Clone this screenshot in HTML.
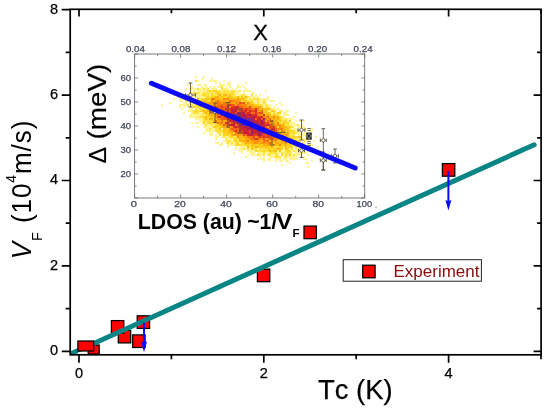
<!DOCTYPE html>
<html><head><meta charset="utf-8"><title>VF vs Tc</title>
<style>html,body{margin:0;padding:0;background:#fff;}svg{display:block;}text{font-family:"Liberation Sans",Arial,Helvetica,sans-serif;font-kerning:none;}</style>
</head><body>
<svg width="550" height="410" viewBox="0 0 550 410">
<rect width="550" height="410" fill="#fff"/>
<defs><filter id="bl" x="-5%" y="-5%" width="110%" height="110%"><feGaussianBlur stdDeviation="0.5"/></filter></defs>
<g filter="url(#bl)">
<rect x="195" y="76" width="2" height="2" fill="#fff392"/>
<rect x="203" y="76" width="2" height="2" fill="#fff392"/>
<rect x="201" y="78" width="2" height="2" fill="#fff392"/>
<rect x="211" y="78" width="2" height="2" fill="#fff392"/>
<rect x="195" y="80" width="2" height="2" fill="#ffe140"/>
<rect x="197" y="80" width="2" height="2" fill="#fff392"/>
<rect x="209" y="80" width="8" height="2" fill="#fff392"/>
<rect x="223" y="80" width="2" height="2" fill="#fff392"/>
<rect x="189" y="82" width="2" height="2" fill="#fff392"/>
<rect x="215" y="82" width="2" height="2" fill="#fff392"/>
<rect x="219" y="82" width="2" height="2" fill="#fff392"/>
<rect x="227" y="82" width="4" height="2" fill="#fff392"/>
<rect x="245" y="82" width="2" height="2" fill="#fff392"/>
<rect x="187" y="84" width="2" height="2" fill="#fff392"/>
<rect x="197" y="84" width="4" height="2" fill="#fff392"/>
<rect x="203" y="84" width="4" height="2" fill="#fff392"/>
<rect x="219" y="84" width="6" height="2" fill="#fff392"/>
<rect x="227" y="84" width="4" height="2" fill="#fff392"/>
<rect x="237" y="84" width="2" height="2" fill="#fff392"/>
<rect x="241" y="84" width="2" height="2" fill="#fff392"/>
<rect x="191" y="86" width="2" height="2" fill="#fff392"/>
<rect x="201" y="86" width="2" height="2" fill="#fff392"/>
<rect x="205" y="86" width="2" height="2" fill="#fff392"/>
<rect x="209" y="86" width="2" height="2" fill="#fff392"/>
<rect x="213" y="86" width="2" height="2" fill="#fff392"/>
<rect x="217" y="86" width="4" height="2" fill="#fff392"/>
<rect x="221" y="86" width="2" height="2" fill="#ffe140"/>
<rect x="225" y="86" width="2" height="2" fill="#fff392"/>
<rect x="229" y="86" width="2" height="2" fill="#fff392"/>
<rect x="237" y="86" width="4" height="2" fill="#fff392"/>
<rect x="243" y="86" width="2" height="2" fill="#fff392"/>
<rect x="185" y="88" width="2" height="2" fill="#fff392"/>
<rect x="189" y="88" width="8" height="2" fill="#fff392"/>
<rect x="197" y="88" width="2" height="2" fill="#ffe140"/>
<rect x="199" y="88" width="4" height="2" fill="#fff392"/>
<rect x="203" y="88" width="2" height="2" fill="#ffe140"/>
<rect x="205" y="88" width="2" height="2" fill="#fff392"/>
<rect x="207" y="88" width="2" height="2" fill="#ffe140"/>
<rect x="211" y="88" width="6" height="2" fill="#fff392"/>
<rect x="221" y="88" width="2" height="2" fill="#ffe140"/>
<rect x="223" y="88" width="6" height="2" fill="#fff392"/>
<rect x="231" y="88" width="2" height="2" fill="#fff392"/>
<rect x="235" y="88" width="2" height="2" fill="#fff392"/>
<rect x="245" y="88" width="2" height="2" fill="#fff392"/>
<rect x="193" y="90" width="2" height="2" fill="#fff392"/>
<rect x="197" y="90" width="10" height="2" fill="#fff392"/>
<rect x="207" y="90" width="2" height="2" fill="#ffe140"/>
<rect x="209" y="90" width="2" height="2" fill="#ffd21d"/>
<rect x="211" y="90" width="2" height="2" fill="#ffe140"/>
<rect x="213" y="90" width="4" height="2" fill="#ffd21d"/>
<rect x="217" y="90" width="4" height="2" fill="#ffe140"/>
<rect x="221" y="90" width="2" height="2" fill="#fff392"/>
<rect x="223" y="90" width="6" height="2" fill="#ffe140"/>
<rect x="229" y="90" width="2" height="2" fill="#fff392"/>
<rect x="231" y="90" width="4" height="2" fill="#ffe140"/>
<rect x="235" y="90" width="4" height="2" fill="#fff392"/>
<rect x="239" y="90" width="2" height="2" fill="#ffe140"/>
<rect x="243" y="90" width="8" height="2" fill="#fff392"/>
<rect x="265" y="90" width="2" height="2" fill="#fff392"/>
<rect x="189" y="92" width="2" height="2" fill="#ffe140"/>
<rect x="191" y="92" width="2" height="2" fill="#fff392"/>
<rect x="193" y="92" width="6" height="2" fill="#ffe140"/>
<rect x="199" y="92" width="4" height="2" fill="#fff392"/>
<rect x="203" y="92" width="10" height="2" fill="#ffe140"/>
<rect x="213" y="92" width="2" height="2" fill="#fff392"/>
<rect x="215" y="92" width="4" height="2" fill="#ffd21d"/>
<rect x="219" y="92" width="12" height="2" fill="#ffe140"/>
<rect x="231" y="92" width="2" height="2" fill="#ffd21d"/>
<rect x="233" y="92" width="2" height="2" fill="#ffe140"/>
<rect x="235" y="92" width="4" height="2" fill="#fff392"/>
<rect x="243" y="92" width="2" height="2" fill="#fff392"/>
<rect x="251" y="92" width="4" height="2" fill="#fff392"/>
<rect x="173" y="94" width="2" height="2" fill="#fff392"/>
<rect x="179" y="94" width="2" height="2" fill="#fff392"/>
<rect x="183" y="94" width="2" height="2" fill="#fff392"/>
<rect x="187" y="94" width="4" height="2" fill="#fff392"/>
<rect x="193" y="94" width="8" height="2" fill="#fff392"/>
<rect x="201" y="94" width="2" height="2" fill="#ffe140"/>
<rect x="203" y="94" width="2" height="2" fill="#ffd21d"/>
<rect x="205" y="94" width="4" height="2" fill="#ffe140"/>
<rect x="209" y="94" width="2" height="2" fill="#fff392"/>
<rect x="211" y="94" width="2" height="2" fill="#ffd21d"/>
<rect x="213" y="94" width="4" height="2" fill="#ffe140"/>
<rect x="217" y="94" width="2" height="2" fill="#ffd21d"/>
<rect x="219" y="94" width="2" height="2" fill="#ffae0f"/>
<rect x="221" y="94" width="2" height="2" fill="#ffe140"/>
<rect x="223" y="94" width="2" height="2" fill="#ffc016"/>
<rect x="225" y="94" width="2" height="2" fill="#ffae0f"/>
<rect x="227" y="94" width="2" height="2" fill="#ffe140"/>
<rect x="229" y="94" width="2" height="2" fill="#ffc016"/>
<rect x="231" y="94" width="4" height="2" fill="#ffe140"/>
<rect x="235" y="94" width="6" height="2" fill="#fff392"/>
<rect x="241" y="94" width="4" height="2" fill="#ffe140"/>
<rect x="245" y="94" width="2" height="2" fill="#fff392"/>
<rect x="251" y="94" width="2" height="2" fill="#ffe140"/>
<rect x="255" y="94" width="2" height="2" fill="#fff392"/>
<rect x="259" y="94" width="2" height="2" fill="#fff392"/>
<rect x="177" y="96" width="2" height="2" fill="#fff392"/>
<rect x="181" y="96" width="4" height="2" fill="#fff392"/>
<rect x="187" y="96" width="2" height="2" fill="#fff392"/>
<rect x="189" y="96" width="2" height="2" fill="#ffd21d"/>
<rect x="191" y="96" width="14" height="2" fill="#fff392"/>
<rect x="205" y="96" width="2" height="2" fill="#ffe140"/>
<rect x="207" y="96" width="2" height="2" fill="#ffd21d"/>
<rect x="209" y="96" width="2" height="2" fill="#ffe140"/>
<rect x="211" y="96" width="4" height="2" fill="#ffd21d"/>
<rect x="215" y="96" width="4" height="2" fill="#ffae0f"/>
<rect x="219" y="96" width="2" height="2" fill="#ffd21d"/>
<rect x="221" y="96" width="2" height="2" fill="#ffc016"/>
<rect x="223" y="96" width="4" height="2" fill="#ffd21d"/>
<rect x="227" y="96" width="4" height="2" fill="#ffc016"/>
<rect x="231" y="96" width="2" height="2" fill="#ffd21d"/>
<rect x="233" y="96" width="2" height="2" fill="#ffe140"/>
<rect x="235" y="96" width="2" height="2" fill="#ffd21d"/>
<rect x="237" y="96" width="2" height="2" fill="#ffc016"/>
<rect x="239" y="96" width="2" height="2" fill="#ffe140"/>
<rect x="241" y="96" width="2" height="2" fill="#ffd21d"/>
<rect x="243" y="96" width="2" height="2" fill="#ffe140"/>
<rect x="245" y="96" width="2" height="2" fill="#ffc016"/>
<rect x="247" y="96" width="2" height="2" fill="#ffe140"/>
<rect x="249" y="96" width="10" height="2" fill="#fff392"/>
<rect x="267" y="96" width="2" height="2" fill="#fff392"/>
<rect x="173" y="98" width="2" height="2" fill="#fff392"/>
<rect x="179" y="98" width="6" height="2" fill="#fff392"/>
<rect x="187" y="98" width="4" height="2" fill="#fff392"/>
<rect x="193" y="98" width="2" height="2" fill="#fff392"/>
<rect x="197" y="98" width="2" height="2" fill="#ffae0f"/>
<rect x="199" y="98" width="2" height="2" fill="#fff392"/>
<rect x="201" y="98" width="2" height="2" fill="#ffd21d"/>
<rect x="203" y="98" width="2" height="2" fill="#ffe140"/>
<rect x="205" y="98" width="4" height="2" fill="#ffc016"/>
<rect x="209" y="98" width="2" height="2" fill="#ffd21d"/>
<rect x="211" y="98" width="4" height="2" fill="#f77610"/>
<rect x="215" y="98" width="2" height="2" fill="#ffc016"/>
<rect x="217" y="98" width="2" height="2" fill="#ffae0f"/>
<rect x="219" y="98" width="4" height="2" fill="#ffc016"/>
<rect x="223" y="98" width="2" height="2" fill="#fb890d"/>
<rect x="225" y="98" width="2" height="2" fill="#fe9c0b"/>
<rect x="227" y="98" width="2" height="2" fill="#fb890d"/>
<rect x="229" y="98" width="2" height="2" fill="#ffc016"/>
<rect x="231" y="98" width="4" height="2" fill="#ffae0f"/>
<rect x="235" y="98" width="2" height="2" fill="#ffc016"/>
<rect x="237" y="98" width="2" height="2" fill="#fe9c0b"/>
<rect x="239" y="98" width="6" height="2" fill="#ffc016"/>
<rect x="245" y="98" width="2" height="2" fill="#ffe140"/>
<rect x="247" y="98" width="2" height="2" fill="#fff392"/>
<rect x="249" y="98" width="2" height="2" fill="#ffe140"/>
<rect x="251" y="98" width="2" height="2" fill="#fff392"/>
<rect x="253" y="98" width="6" height="2" fill="#ffe140"/>
<rect x="259" y="98" width="10" height="2" fill="#fff392"/>
<rect x="179" y="100" width="4" height="2" fill="#fff392"/>
<rect x="185" y="100" width="2" height="2" fill="#ffe140"/>
<rect x="187" y="100" width="2" height="2" fill="#fff392"/>
<rect x="191" y="100" width="2" height="2" fill="#ffe140"/>
<rect x="193" y="100" width="4" height="2" fill="#fff392"/>
<rect x="197" y="100" width="2" height="2" fill="#ffe140"/>
<rect x="199" y="100" width="4" height="2" fill="#ffd21d"/>
<rect x="203" y="100" width="4" height="2" fill="#ffc016"/>
<rect x="207" y="100" width="2" height="2" fill="#ffe140"/>
<rect x="209" y="100" width="2" height="2" fill="#ffd21d"/>
<rect x="211" y="100" width="2" height="2" fill="#fe9c0b"/>
<rect x="213" y="100" width="2" height="2" fill="#ffc016"/>
<rect x="215" y="100" width="2" height="2" fill="#fe9c0b"/>
<rect x="217" y="100" width="2" height="2" fill="#f77610"/>
<rect x="219" y="100" width="2" height="2" fill="#fe9c0b"/>
<rect x="221" y="100" width="8" height="2" fill="#ffae0f"/>
<rect x="229" y="100" width="2" height="2" fill="#f46312"/>
<rect x="231" y="100" width="4" height="2" fill="#fb890d"/>
<rect x="235" y="100" width="6" height="2" fill="#fe9c0b"/>
<rect x="241" y="100" width="2" height="2" fill="#ffe140"/>
<rect x="243" y="100" width="2" height="2" fill="#ffd21d"/>
<rect x="245" y="100" width="2" height="2" fill="#ffc016"/>
<rect x="247" y="100" width="4" height="2" fill="#ffe140"/>
<rect x="251" y="100" width="2" height="2" fill="#ffd21d"/>
<rect x="253" y="100" width="4" height="2" fill="#fff392"/>
<rect x="257" y="100" width="2" height="2" fill="#ffe140"/>
<rect x="259" y="100" width="4" height="2" fill="#fff392"/>
<rect x="263" y="100" width="2" height="2" fill="#ffe140"/>
<rect x="265" y="100" width="2" height="2" fill="#fff392"/>
<rect x="269" y="100" width="6" height="2" fill="#fff392"/>
<rect x="169" y="102" width="2" height="2" fill="#fff392"/>
<rect x="183" y="102" width="4" height="2" fill="#fff392"/>
<rect x="189" y="102" width="2" height="2" fill="#ffe140"/>
<rect x="191" y="102" width="2" height="2" fill="#fff392"/>
<rect x="193" y="102" width="2" height="2" fill="#ffe140"/>
<rect x="195" y="102" width="2" height="2" fill="#fff392"/>
<rect x="197" y="102" width="4" height="2" fill="#ffe140"/>
<rect x="201" y="102" width="2" height="2" fill="#fff392"/>
<rect x="203" y="102" width="2" height="2" fill="#ffd21d"/>
<rect x="205" y="102" width="4" height="2" fill="#ffae0f"/>
<rect x="209" y="102" width="4" height="2" fill="#fe9c0b"/>
<rect x="213" y="102" width="2" height="2" fill="#ffae0f"/>
<rect x="215" y="102" width="4" height="2" fill="#f77610"/>
<rect x="219" y="102" width="2" height="2" fill="#fb890d"/>
<rect x="221" y="102" width="2" height="2" fill="#fe9c0b"/>
<rect x="223" y="102" width="4" height="2" fill="#f77610"/>
<rect x="227" y="102" width="2" height="2" fill="#fe9c0b"/>
<rect x="229" y="102" width="2" height="2" fill="#fb890d"/>
<rect x="231" y="102" width="2" height="2" fill="#fe9c0b"/>
<rect x="233" y="102" width="2" height="2" fill="#ffae0f"/>
<rect x="235" y="102" width="2" height="2" fill="#fb890d"/>
<rect x="237" y="102" width="2" height="2" fill="#fe9c0b"/>
<rect x="239" y="102" width="2" height="2" fill="#ef5316"/>
<rect x="241" y="102" width="2" height="2" fill="#f46312"/>
<rect x="243" y="102" width="2" height="2" fill="#ef5316"/>
<rect x="245" y="102" width="2" height="2" fill="#ffd21d"/>
<rect x="247" y="102" width="2" height="2" fill="#fb890d"/>
<rect x="249" y="102" width="2" height="2" fill="#ffc016"/>
<rect x="251" y="102" width="2" height="2" fill="#ffd21d"/>
<rect x="253" y="102" width="2" height="2" fill="#ffe140"/>
<rect x="255" y="102" width="2" height="2" fill="#fff392"/>
<rect x="257" y="102" width="2" height="2" fill="#ffe140"/>
<rect x="259" y="102" width="4" height="2" fill="#fff392"/>
<rect x="263" y="102" width="2" height="2" fill="#ffe140"/>
<rect x="265" y="102" width="2" height="2" fill="#fff392"/>
<rect x="279" y="102" width="2" height="2" fill="#fff392"/>
<rect x="161" y="104" width="2" height="2" fill="#fff392"/>
<rect x="179" y="104" width="8" height="2" fill="#fff392"/>
<rect x="187" y="104" width="2" height="2" fill="#ffe140"/>
<rect x="191" y="104" width="2" height="2" fill="#ffe140"/>
<rect x="193" y="104" width="2" height="2" fill="#fff392"/>
<rect x="195" y="104" width="6" height="2" fill="#ffe140"/>
<rect x="201" y="104" width="4" height="2" fill="#ffd21d"/>
<rect x="205" y="104" width="2" height="2" fill="#ffc016"/>
<rect x="207" y="104" width="6" height="2" fill="#ffae0f"/>
<rect x="213" y="104" width="2" height="2" fill="#fb890d"/>
<rect x="215" y="104" width="2" height="2" fill="#fe9c0b"/>
<rect x="217" y="104" width="4" height="2" fill="#f77610"/>
<rect x="221" y="104" width="2" height="2" fill="#f46312"/>
<rect x="223" y="104" width="4" height="2" fill="#f77610"/>
<rect x="227" y="104" width="2" height="2" fill="#e7461b"/>
<rect x="229" y="104" width="2" height="2" fill="#df3920"/>
<rect x="231" y="104" width="2" height="2" fill="#ef5316"/>
<rect x="233" y="104" width="2" height="2" fill="#f46312"/>
<rect x="235" y="104" width="2" height="2" fill="#fe9c0b"/>
<rect x="237" y="104" width="2" height="2" fill="#f46312"/>
<rect x="239" y="104" width="2" height="2" fill="#f77610"/>
<rect x="241" y="104" width="6" height="2" fill="#fb890d"/>
<rect x="247" y="104" width="6" height="2" fill="#ffae0f"/>
<rect x="253" y="104" width="2" height="2" fill="#ffc016"/>
<rect x="255" y="104" width="4" height="2" fill="#ffd21d"/>
<rect x="259" y="104" width="4" height="2" fill="#ffe140"/>
<rect x="263" y="104" width="2" height="2" fill="#fff392"/>
<rect x="265" y="104" width="2" height="2" fill="#ffe140"/>
<rect x="267" y="104" width="4" height="2" fill="#fff392"/>
<rect x="275" y="104" width="2" height="2" fill="#fff392"/>
<rect x="281" y="104" width="2" height="2" fill="#fff392"/>
<rect x="179" y="106" width="2" height="2" fill="#fff392"/>
<rect x="183" y="106" width="2" height="2" fill="#fff392"/>
<rect x="187" y="106" width="2" height="2" fill="#fff392"/>
<rect x="191" y="106" width="2" height="2" fill="#fff392"/>
<rect x="193" y="106" width="2" height="2" fill="#ffd21d"/>
<rect x="195" y="106" width="4" height="2" fill="#ffe140"/>
<rect x="199" y="106" width="4" height="2" fill="#ffd21d"/>
<rect x="203" y="106" width="2" height="2" fill="#ffe140"/>
<rect x="205" y="106" width="2" height="2" fill="#ffd21d"/>
<rect x="207" y="106" width="2" height="2" fill="#ffae0f"/>
<rect x="209" y="106" width="2" height="2" fill="#ffc016"/>
<rect x="211" y="106" width="2" height="2" fill="#fb890d"/>
<rect x="213" y="106" width="2" height="2" fill="#ffae0f"/>
<rect x="215" y="106" width="2" height="2" fill="#ef5316"/>
<rect x="217" y="106" width="2" height="2" fill="#f46312"/>
<rect x="219" y="106" width="2" height="2" fill="#ef5316"/>
<rect x="221" y="106" width="2" height="2" fill="#e7461b"/>
<rect x="223" y="106" width="2" height="2" fill="#f46312"/>
<rect x="225" y="106" width="2" height="2" fill="#ef5316"/>
<rect x="227" y="106" width="2" height="2" fill="#d72c25"/>
<rect x="229" y="106" width="2" height="2" fill="#fb890d"/>
<rect x="231" y="106" width="4" height="2" fill="#df3920"/>
<rect x="235" y="106" width="2" height="2" fill="#d72c25"/>
<rect x="237" y="106" width="2" height="2" fill="#cf202b"/>
<rect x="239" y="106" width="4" height="2" fill="#f46312"/>
<rect x="243" y="106" width="6" height="2" fill="#fb890d"/>
<rect x="249" y="106" width="2" height="2" fill="#ef5316"/>
<rect x="251" y="106" width="2" height="2" fill="#fe9c0b"/>
<rect x="253" y="106" width="2" height="2" fill="#ffae0f"/>
<rect x="255" y="106" width="2" height="2" fill="#fe9c0b"/>
<rect x="257" y="106" width="2" height="2" fill="#ffae0f"/>
<rect x="259" y="106" width="2" height="2" fill="#fe9c0b"/>
<rect x="261" y="106" width="2" height="2" fill="#ffd21d"/>
<rect x="263" y="106" width="2" height="2" fill="#fff392"/>
<rect x="265" y="106" width="4" height="2" fill="#ffe140"/>
<rect x="269" y="106" width="2" height="2" fill="#fff392"/>
<rect x="273" y="106" width="2" height="2" fill="#fff392"/>
<rect x="181" y="108" width="2" height="2" fill="#fff392"/>
<rect x="189" y="108" width="4" height="2" fill="#fff392"/>
<rect x="195" y="108" width="2" height="2" fill="#ffe140"/>
<rect x="197" y="108" width="2" height="2" fill="#fff392"/>
<rect x="199" y="108" width="4" height="2" fill="#ffe140"/>
<rect x="203" y="108" width="2" height="2" fill="#ffd21d"/>
<rect x="205" y="108" width="2" height="2" fill="#ffe140"/>
<rect x="207" y="108" width="2" height="2" fill="#ffc016"/>
<rect x="209" y="108" width="2" height="2" fill="#ffd21d"/>
<rect x="211" y="108" width="2" height="2" fill="#fe9c0b"/>
<rect x="213" y="108" width="2" height="2" fill="#ffc016"/>
<rect x="215" y="108" width="2" height="2" fill="#f77610"/>
<rect x="217" y="108" width="2" height="2" fill="#fe9c0b"/>
<rect x="219" y="108" width="2" height="2" fill="#f46312"/>
<rect x="221" y="108" width="2" height="2" fill="#ef5316"/>
<rect x="223" y="108" width="2" height="2" fill="#f46312"/>
<rect x="225" y="108" width="2" height="2" fill="#d72c25"/>
<rect x="227" y="108" width="2" height="2" fill="#ef5316"/>
<rect x="229" y="108" width="2" height="2" fill="#df3920"/>
<rect x="231" y="108" width="2" height="2" fill="#cf202b"/>
<rect x="233" y="108" width="2" height="2" fill="#d72c25"/>
<rect x="235" y="108" width="2" height="2" fill="#c32039"/>
<rect x="237" y="108" width="2" height="2" fill="#df3920"/>
<rect x="239" y="108" width="2" height="2" fill="#ef5316"/>
<rect x="241" y="108" width="2" height="2" fill="#df3920"/>
<rect x="243" y="108" width="2" height="2" fill="#ef5316"/>
<rect x="245" y="108" width="2" height="2" fill="#df3920"/>
<rect x="247" y="108" width="2" height="2" fill="#e7461b"/>
<rect x="249" y="108" width="2" height="2" fill="#ef5316"/>
<rect x="251" y="108" width="4" height="2" fill="#f77610"/>
<rect x="255" y="108" width="2" height="2" fill="#df3920"/>
<rect x="257" y="108" width="2" height="2" fill="#f77610"/>
<rect x="259" y="108" width="2" height="2" fill="#ffc016"/>
<rect x="261" y="108" width="2" height="2" fill="#ffae0f"/>
<rect x="263" y="108" width="6" height="2" fill="#ffc016"/>
<rect x="269" y="108" width="2" height="2" fill="#ffd21d"/>
<rect x="271" y="108" width="8" height="2" fill="#fff392"/>
<rect x="187" y="110" width="6" height="2" fill="#fff392"/>
<rect x="193" y="110" width="2" height="2" fill="#ffe140"/>
<rect x="195" y="110" width="2" height="2" fill="#ffd21d"/>
<rect x="197" y="110" width="4" height="2" fill="#ffe140"/>
<rect x="201" y="110" width="2" height="2" fill="#ffd21d"/>
<rect x="203" y="110" width="2" height="2" fill="#ffc016"/>
<rect x="205" y="110" width="2" height="2" fill="#ffd21d"/>
<rect x="207" y="110" width="2" height="2" fill="#ffae0f"/>
<rect x="209" y="110" width="2" height="2" fill="#fe9c0b"/>
<rect x="211" y="110" width="4" height="2" fill="#ffae0f"/>
<rect x="215" y="110" width="2" height="2" fill="#ef5316"/>
<rect x="217" y="110" width="4" height="2" fill="#fb890d"/>
<rect x="221" y="110" width="2" height="2" fill="#df3920"/>
<rect x="223" y="110" width="2" height="2" fill="#e7461b"/>
<rect x="225" y="110" width="2" height="2" fill="#ef5316"/>
<rect x="227" y="110" width="2" height="2" fill="#d72c25"/>
<rect x="229" y="110" width="2" height="2" fill="#ef5316"/>
<rect x="231" y="110" width="2" height="2" fill="#ab1f56"/>
<rect x="233" y="110" width="2" height="2" fill="#cf202b"/>
<rect x="235" y="110" width="2" height="2" fill="#b71f47"/>
<rect x="237" y="110" width="2" height="2" fill="#f46312"/>
<rect x="239" y="110" width="2" height="2" fill="#ef5316"/>
<rect x="241" y="110" width="2" height="2" fill="#d72c25"/>
<rect x="243" y="110" width="2" height="2" fill="#df3920"/>
<rect x="245" y="110" width="2" height="2" fill="#cf202b"/>
<rect x="247" y="110" width="2" height="2" fill="#f46312"/>
<rect x="249" y="110" width="2" height="2" fill="#cf202b"/>
<rect x="251" y="110" width="4" height="2" fill="#e7461b"/>
<rect x="255" y="110" width="2" height="2" fill="#cf202b"/>
<rect x="257" y="110" width="4" height="2" fill="#fe9c0b"/>
<rect x="261" y="110" width="2" height="2" fill="#f46312"/>
<rect x="263" y="110" width="2" height="2" fill="#ffd21d"/>
<rect x="265" y="110" width="2" height="2" fill="#ffc016"/>
<rect x="267" y="110" width="2" height="2" fill="#ffe140"/>
<rect x="269" y="110" width="2" height="2" fill="#fff392"/>
<rect x="271" y="110" width="2" height="2" fill="#ffc016"/>
<rect x="273" y="110" width="2" height="2" fill="#ffd21d"/>
<rect x="275" y="110" width="2" height="2" fill="#fff392"/>
<rect x="279" y="110" width="2" height="2" fill="#ffe140"/>
<rect x="281" y="110" width="2" height="2" fill="#fff392"/>
<rect x="285" y="110" width="4" height="2" fill="#fff392"/>
<rect x="183" y="112" width="2" height="2" fill="#fff392"/>
<rect x="191" y="112" width="2" height="2" fill="#fff392"/>
<rect x="193" y="112" width="6" height="2" fill="#ffe140"/>
<rect x="199" y="112" width="4" height="2" fill="#fff392"/>
<rect x="203" y="112" width="2" height="2" fill="#ffd21d"/>
<rect x="205" y="112" width="2" height="2" fill="#ffae0f"/>
<rect x="207" y="112" width="2" height="2" fill="#ffd21d"/>
<rect x="209" y="112" width="2" height="2" fill="#ffc016"/>
<rect x="211" y="112" width="2" height="2" fill="#fb890d"/>
<rect x="213" y="112" width="2" height="2" fill="#ffc016"/>
<rect x="215" y="112" width="2" height="2" fill="#f77610"/>
<rect x="217" y="112" width="2" height="2" fill="#fb890d"/>
<rect x="219" y="112" width="2" height="2" fill="#f46312"/>
<rect x="221" y="112" width="2" height="2" fill="#df3920"/>
<rect x="223" y="112" width="2" height="2" fill="#d72c25"/>
<rect x="225" y="112" width="2" height="2" fill="#f46312"/>
<rect x="227" y="112" width="4" height="2" fill="#d72c25"/>
<rect x="231" y="112" width="2" height="2" fill="#cf202b"/>
<rect x="233" y="112" width="2" height="2" fill="#c32039"/>
<rect x="235" y="112" width="2" height="2" fill="#e7461b"/>
<rect x="237" y="112" width="2" height="2" fill="#921f72"/>
<rect x="239" y="112" width="2" height="2" fill="#b71f47"/>
<rect x="241" y="112" width="2" height="2" fill="#c32039"/>
<rect x="243" y="112" width="2" height="2" fill="#ab1f56"/>
<rect x="245" y="112" width="2" height="2" fill="#e7461b"/>
<rect x="247" y="112" width="2" height="2" fill="#d72c25"/>
<rect x="249" y="112" width="2" height="2" fill="#df3920"/>
<rect x="251" y="112" width="2" height="2" fill="#f77610"/>
<rect x="253" y="112" width="2" height="2" fill="#f46312"/>
<rect x="255" y="112" width="2" height="2" fill="#df3920"/>
<rect x="257" y="112" width="2" height="2" fill="#f46312"/>
<rect x="259" y="112" width="2" height="2" fill="#e7461b"/>
<rect x="261" y="112" width="2" height="2" fill="#ef5316"/>
<rect x="263" y="112" width="6" height="2" fill="#ffc016"/>
<rect x="269" y="112" width="2" height="2" fill="#ffd21d"/>
<rect x="271" y="112" width="2" height="2" fill="#fff392"/>
<rect x="273" y="112" width="2" height="2" fill="#ffd21d"/>
<rect x="275" y="112" width="2" height="2" fill="#fff392"/>
<rect x="277" y="112" width="4" height="2" fill="#ffd21d"/>
<rect x="283" y="112" width="4" height="2" fill="#fff392"/>
<rect x="295" y="112" width="2" height="2" fill="#fff392"/>
<rect x="189" y="114" width="12" height="2" fill="#fff392"/>
<rect x="201" y="114" width="2" height="2" fill="#ffe140"/>
<rect x="203" y="114" width="2" height="2" fill="#fff392"/>
<rect x="205" y="114" width="2" height="2" fill="#ffe140"/>
<rect x="207" y="114" width="2" height="2" fill="#ffd21d"/>
<rect x="209" y="114" width="4" height="2" fill="#ffae0f"/>
<rect x="213" y="114" width="2" height="2" fill="#ffc016"/>
<rect x="215" y="114" width="2" height="2" fill="#fb890d"/>
<rect x="217" y="114" width="2" height="2" fill="#f46312"/>
<rect x="219" y="114" width="2" height="2" fill="#f77610"/>
<rect x="221" y="114" width="2" height="2" fill="#b71f47"/>
<rect x="223" y="114" width="2" height="2" fill="#ef5316"/>
<rect x="225" y="114" width="2" height="2" fill="#f46312"/>
<rect x="227" y="114" width="2" height="2" fill="#9f1e64"/>
<rect x="229" y="114" width="4" height="2" fill="#cf202b"/>
<rect x="233" y="114" width="2" height="2" fill="#6b2f9d"/>
<rect x="235" y="114" width="2" height="2" fill="#503ab9"/>
<rect x="237" y="114" width="2" height="2" fill="#b71f47"/>
<rect x="239" y="114" width="2" height="2" fill="#5d35ab"/>
<rect x="241" y="114" width="2" height="2" fill="#cf202b"/>
<rect x="243" y="114" width="2" height="2" fill="#ab1f56"/>
<rect x="245" y="114" width="2" height="2" fill="#cf202b"/>
<rect x="247" y="114" width="2" height="2" fill="#c32039"/>
<rect x="249" y="114" width="2" height="2" fill="#ab1f56"/>
<rect x="251" y="114" width="2" height="2" fill="#d72c25"/>
<rect x="253" y="114" width="2" height="2" fill="#df3920"/>
<rect x="255" y="114" width="2" height="2" fill="#cf202b"/>
<rect x="257" y="114" width="2" height="2" fill="#f77610"/>
<rect x="259" y="114" width="2" height="2" fill="#fb890d"/>
<rect x="261" y="114" width="2" height="2" fill="#fe9c0b"/>
<rect x="263" y="114" width="2" height="2" fill="#df3920"/>
<rect x="265" y="114" width="2" height="2" fill="#ffc016"/>
<rect x="267" y="114" width="2" height="2" fill="#fe9c0b"/>
<rect x="269" y="114" width="2" height="2" fill="#ffc016"/>
<rect x="271" y="114" width="2" height="2" fill="#ffe140"/>
<rect x="273" y="114" width="4" height="2" fill="#ffd21d"/>
<rect x="277" y="114" width="2" height="2" fill="#ffe140"/>
<rect x="279" y="114" width="2" height="2" fill="#fff392"/>
<rect x="283" y="114" width="6" height="2" fill="#fff392"/>
<rect x="189" y="116" width="10" height="2" fill="#fff392"/>
<rect x="199" y="116" width="4" height="2" fill="#ffe140"/>
<rect x="203" y="116" width="2" height="2" fill="#ffd21d"/>
<rect x="205" y="116" width="2" height="2" fill="#ffc016"/>
<rect x="207" y="116" width="4" height="2" fill="#ffd21d"/>
<rect x="211" y="116" width="2" height="2" fill="#ffc016"/>
<rect x="213" y="116" width="2" height="2" fill="#ffd21d"/>
<rect x="215" y="116" width="2" height="2" fill="#fe9c0b"/>
<rect x="217" y="116" width="2" height="2" fill="#e7461b"/>
<rect x="219" y="116" width="2" height="2" fill="#df3920"/>
<rect x="221" y="116" width="2" height="2" fill="#f46312"/>
<rect x="223" y="116" width="2" height="2" fill="#ef5316"/>
<rect x="225" y="116" width="2" height="2" fill="#b71f47"/>
<rect x="227" y="116" width="2" height="2" fill="#cf202b"/>
<rect x="229" y="116" width="2" height="2" fill="#c32039"/>
<rect x="231" y="116" width="2" height="2" fill="#cf202b"/>
<rect x="233" y="116" width="2" height="2" fill="#9f1e64"/>
<rect x="235" y="116" width="2" height="2" fill="#503ab9"/>
<rect x="237" y="116" width="2" height="2" fill="#921f72"/>
<rect x="239" y="116" width="2" height="2" fill="#ab1f56"/>
<rect x="241" y="116" width="2" height="2" fill="#b71f47"/>
<rect x="243" y="116" width="2" height="2" fill="#852580"/>
<rect x="245" y="116" width="2" height="2" fill="#b71f47"/>
<rect x="247" y="116" width="2" height="2" fill="#d72c25"/>
<rect x="249" y="116" width="4" height="2" fill="#c32039"/>
<rect x="253" y="116" width="2" height="2" fill="#ab1f56"/>
<rect x="255" y="116" width="2" height="2" fill="#cf202b"/>
<rect x="257" y="116" width="4" height="2" fill="#df3920"/>
<rect x="261" y="116" width="2" height="2" fill="#d72c25"/>
<rect x="263" y="116" width="2" height="2" fill="#fb890d"/>
<rect x="265" y="116" width="2" height="2" fill="#fe9c0b"/>
<rect x="267" y="116" width="2" height="2" fill="#f46312"/>
<rect x="269" y="116" width="2" height="2" fill="#ffc016"/>
<rect x="271" y="116" width="2" height="2" fill="#ffae0f"/>
<rect x="273" y="116" width="2" height="2" fill="#fb890d"/>
<rect x="275" y="116" width="2" height="2" fill="#ffc016"/>
<rect x="277" y="116" width="2" height="2" fill="#ffae0f"/>
<rect x="279" y="116" width="4" height="2" fill="#ffe140"/>
<rect x="283" y="116" width="2" height="2" fill="#fff392"/>
<rect x="293" y="116" width="2" height="2" fill="#fff392"/>
<rect x="195" y="118" width="8" height="2" fill="#fff392"/>
<rect x="203" y="118" width="2" height="2" fill="#ffe140"/>
<rect x="205" y="118" width="2" height="2" fill="#ffc016"/>
<rect x="207" y="118" width="2" height="2" fill="#ffe140"/>
<rect x="209" y="118" width="4" height="2" fill="#ffae0f"/>
<rect x="213" y="118" width="2" height="2" fill="#ffd21d"/>
<rect x="215" y="118" width="2" height="2" fill="#ffc016"/>
<rect x="217" y="118" width="2" height="2" fill="#fe9c0b"/>
<rect x="219" y="118" width="2" height="2" fill="#fb890d"/>
<rect x="221" y="118" width="6" height="2" fill="#ef5316"/>
<rect x="227" y="118" width="2" height="2" fill="#c32039"/>
<rect x="229" y="118" width="2" height="2" fill="#d72c25"/>
<rect x="231" y="118" width="2" height="2" fill="#ab1f56"/>
<rect x="233" y="118" width="2" height="2" fill="#d72c25"/>
<rect x="235" y="118" width="2" height="2" fill="#df3920"/>
<rect x="237" y="118" width="2" height="2" fill="#c32039"/>
<rect x="239" y="118" width="2" height="2" fill="#503ab9"/>
<rect x="241" y="118" width="2" height="2" fill="#921f72"/>
<rect x="243" y="118" width="2" height="2" fill="#782a8e"/>
<rect x="245" y="118" width="2" height="2" fill="#9f1e64"/>
<rect x="247" y="118" width="2" height="2" fill="#503ab9"/>
<rect x="249" y="118" width="2" height="2" fill="#782a8e"/>
<rect x="251" y="118" width="2" height="2" fill="#9f1e64"/>
<rect x="253" y="118" width="2" height="2" fill="#c32039"/>
<rect x="255" y="118" width="2" height="2" fill="#f46312"/>
<rect x="257" y="118" width="2" height="2" fill="#cf202b"/>
<rect x="259" y="118" width="2" height="2" fill="#b71f47"/>
<rect x="261" y="118" width="2" height="2" fill="#ef5316"/>
<rect x="263" y="118" width="2" height="2" fill="#9f1e64"/>
<rect x="265" y="118" width="2" height="2" fill="#f77610"/>
<rect x="267" y="118" width="2" height="2" fill="#ffae0f"/>
<rect x="269" y="118" width="2" height="2" fill="#f46312"/>
<rect x="271" y="118" width="2" height="2" fill="#ffc016"/>
<rect x="273" y="118" width="2" height="2" fill="#ffae0f"/>
<rect x="275" y="118" width="2" height="2" fill="#ffc016"/>
<rect x="277" y="118" width="2" height="2" fill="#ffae0f"/>
<rect x="279" y="118" width="2" height="2" fill="#ffd21d"/>
<rect x="281" y="118" width="2" height="2" fill="#ffe140"/>
<rect x="283" y="118" width="2" height="2" fill="#fff392"/>
<rect x="285" y="118" width="2" height="2" fill="#ffe140"/>
<rect x="287" y="118" width="6" height="2" fill="#fff392"/>
<rect x="199" y="120" width="4" height="2" fill="#fff392"/>
<rect x="203" y="120" width="8" height="2" fill="#ffe140"/>
<rect x="211" y="120" width="2" height="2" fill="#ffd21d"/>
<rect x="213" y="120" width="2" height="2" fill="#ffc016"/>
<rect x="215" y="120" width="2" height="2" fill="#f77610"/>
<rect x="217" y="120" width="4" height="2" fill="#ffae0f"/>
<rect x="221" y="120" width="2" height="2" fill="#f77610"/>
<rect x="223" y="120" width="2" height="2" fill="#ffae0f"/>
<rect x="225" y="120" width="2" height="2" fill="#fe9c0b"/>
<rect x="227" y="120" width="2" height="2" fill="#f46312"/>
<rect x="229" y="120" width="2" height="2" fill="#cf202b"/>
<rect x="231" y="120" width="4" height="2" fill="#c32039"/>
<rect x="235" y="120" width="2" height="2" fill="#d72c25"/>
<rect x="237" y="120" width="2" height="2" fill="#cf202b"/>
<rect x="239" y="120" width="2" height="2" fill="#503ab9"/>
<rect x="241" y="120" width="2" height="2" fill="#9f1e64"/>
<rect x="243" y="120" width="4" height="2" fill="#503ab9"/>
<rect x="247" y="120" width="2" height="2" fill="#852580"/>
<rect x="249" y="120" width="2" height="2" fill="#782a8e"/>
<rect x="251" y="120" width="2" height="2" fill="#b71f47"/>
<rect x="253" y="120" width="2" height="2" fill="#852580"/>
<rect x="255" y="120" width="4" height="2" fill="#cf202b"/>
<rect x="259" y="120" width="2" height="2" fill="#d72c25"/>
<rect x="261" y="120" width="2" height="2" fill="#9f1e64"/>
<rect x="263" y="120" width="2" height="2" fill="#df3920"/>
<rect x="265" y="120" width="2" height="2" fill="#fe9c0b"/>
<rect x="267" y="120" width="4" height="2" fill="#f46312"/>
<rect x="271" y="120" width="2" height="2" fill="#fb890d"/>
<rect x="273" y="120" width="2" height="2" fill="#ffc016"/>
<rect x="275" y="120" width="2" height="2" fill="#ffae0f"/>
<rect x="277" y="120" width="2" height="2" fill="#ffd21d"/>
<rect x="279" y="120" width="2" height="2" fill="#ffc016"/>
<rect x="281" y="120" width="4" height="2" fill="#ffe140"/>
<rect x="285" y="120" width="2" height="2" fill="#ffd21d"/>
<rect x="287" y="120" width="2" height="2" fill="#fff392"/>
<rect x="289" y="120" width="2" height="2" fill="#ffd21d"/>
<rect x="295" y="120" width="2" height="2" fill="#fff392"/>
<rect x="299" y="120" width="2" height="2" fill="#fff392"/>
<rect x="303" y="120" width="2" height="2" fill="#fff392"/>
<rect x="191" y="122" width="2" height="2" fill="#fff392"/>
<rect x="195" y="122" width="4" height="2" fill="#fff392"/>
<rect x="201" y="122" width="2" height="2" fill="#fff392"/>
<rect x="203" y="122" width="2" height="2" fill="#ffd21d"/>
<rect x="205" y="122" width="2" height="2" fill="#fff392"/>
<rect x="207" y="122" width="4" height="2" fill="#ffd21d"/>
<rect x="211" y="122" width="4" height="2" fill="#ffe140"/>
<rect x="215" y="122" width="2" height="2" fill="#ffd21d"/>
<rect x="217" y="122" width="2" height="2" fill="#f77610"/>
<rect x="219" y="122" width="2" height="2" fill="#fb890d"/>
<rect x="221" y="122" width="2" height="2" fill="#f77610"/>
<rect x="223" y="122" width="2" height="2" fill="#ffae0f"/>
<rect x="225" y="122" width="4" height="2" fill="#df3920"/>
<rect x="229" y="122" width="2" height="2" fill="#f77610"/>
<rect x="231" y="122" width="2" height="2" fill="#ef5316"/>
<rect x="233" y="122" width="2" height="2" fill="#c32039"/>
<rect x="235" y="122" width="2" height="2" fill="#df3920"/>
<rect x="237" y="122" width="2" height="2" fill="#ab1f56"/>
<rect x="239" y="122" width="2" height="2" fill="#b71f47"/>
<rect x="241" y="122" width="2" height="2" fill="#d72c25"/>
<rect x="243" y="122" width="2" height="2" fill="#b71f47"/>
<rect x="245" y="122" width="2" height="2" fill="#e7461b"/>
<rect x="247" y="122" width="4" height="2" fill="#921f72"/>
<rect x="251" y="122" width="2" height="2" fill="#9f1e64"/>
<rect x="253" y="122" width="2" height="2" fill="#cf202b"/>
<rect x="255" y="122" width="2" height="2" fill="#9f1e64"/>
<rect x="257" y="122" width="2" height="2" fill="#c32039"/>
<rect x="259" y="122" width="2" height="2" fill="#d72c25"/>
<rect x="261" y="122" width="2" height="2" fill="#9f1e64"/>
<rect x="263" y="122" width="2" height="2" fill="#cf202b"/>
<rect x="265" y="122" width="4" height="2" fill="#e7461b"/>
<rect x="269" y="122" width="2" height="2" fill="#fb890d"/>
<rect x="271" y="122" width="2" height="2" fill="#ffae0f"/>
<rect x="273" y="122" width="2" height="2" fill="#fe9c0b"/>
<rect x="275" y="122" width="2" height="2" fill="#ffc016"/>
<rect x="277" y="122" width="2" height="2" fill="#fb890d"/>
<rect x="279" y="122" width="4" height="2" fill="#ffe140"/>
<rect x="283" y="122" width="2" height="2" fill="#ffc016"/>
<rect x="285" y="122" width="2" height="2" fill="#ffe140"/>
<rect x="287" y="122" width="2" height="2" fill="#ffd21d"/>
<rect x="289" y="122" width="6" height="2" fill="#fff392"/>
<rect x="203" y="124" width="2" height="2" fill="#fff392"/>
<rect x="205" y="124" width="2" height="2" fill="#ffe140"/>
<rect x="207" y="124" width="4" height="2" fill="#fff392"/>
<rect x="211" y="124" width="2" height="2" fill="#ffe140"/>
<rect x="213" y="124" width="2" height="2" fill="#fff392"/>
<rect x="215" y="124" width="4" height="2" fill="#ffd21d"/>
<rect x="219" y="124" width="2" height="2" fill="#ffae0f"/>
<rect x="221" y="124" width="2" height="2" fill="#ffc016"/>
<rect x="223" y="124" width="2" height="2" fill="#f46312"/>
<rect x="225" y="124" width="2" height="2" fill="#f77610"/>
<rect x="227" y="124" width="2" height="2" fill="#f46312"/>
<rect x="229" y="124" width="2" height="2" fill="#cf202b"/>
<rect x="231" y="124" width="4" height="2" fill="#b71f47"/>
<rect x="235" y="124" width="2" height="2" fill="#f77610"/>
<rect x="237" y="124" width="2" height="2" fill="#e7461b"/>
<rect x="239" y="124" width="2" height="2" fill="#c32039"/>
<rect x="241" y="124" width="2" height="2" fill="#921f72"/>
<rect x="243" y="124" width="2" height="2" fill="#503ab9"/>
<rect x="245" y="124" width="2" height="2" fill="#782a8e"/>
<rect x="247" y="124" width="2" height="2" fill="#d72c25"/>
<rect x="249" y="124" width="2" height="2" fill="#852580"/>
<rect x="251" y="124" width="2" height="2" fill="#9f1e64"/>
<rect x="253" y="124" width="4" height="2" fill="#cf202b"/>
<rect x="257" y="124" width="2" height="2" fill="#6b2f9d"/>
<rect x="259" y="124" width="2" height="2" fill="#ab1f56"/>
<rect x="261" y="124" width="2" height="2" fill="#cf202b"/>
<rect x="263" y="124" width="2" height="2" fill="#d72c25"/>
<rect x="265" y="124" width="2" height="2" fill="#df3920"/>
<rect x="267" y="124" width="2" height="2" fill="#b71f47"/>
<rect x="269" y="124" width="2" height="2" fill="#e7461b"/>
<rect x="271" y="124" width="2" height="2" fill="#f77610"/>
<rect x="273" y="124" width="2" height="2" fill="#fb890d"/>
<rect x="275" y="124" width="2" height="2" fill="#ffae0f"/>
<rect x="277" y="124" width="2" height="2" fill="#fb890d"/>
<rect x="279" y="124" width="2" height="2" fill="#fe9c0b"/>
<rect x="281" y="124" width="2" height="2" fill="#ffae0f"/>
<rect x="283" y="124" width="2" height="2" fill="#ffc016"/>
<rect x="285" y="124" width="4" height="2" fill="#ffe140"/>
<rect x="289" y="124" width="8" height="2" fill="#fff392"/>
<rect x="297" y="124" width="2" height="2" fill="#ffe140"/>
<rect x="301" y="124" width="2" height="2" fill="#fff392"/>
<rect x="197" y="126" width="2" height="2" fill="#fff392"/>
<rect x="203" y="126" width="10" height="2" fill="#fff392"/>
<rect x="213" y="126" width="4" height="2" fill="#ffd21d"/>
<rect x="217" y="126" width="2" height="2" fill="#ffe140"/>
<rect x="219" y="126" width="2" height="2" fill="#ffd21d"/>
<rect x="221" y="126" width="2" height="2" fill="#ffc016"/>
<rect x="223" y="126" width="2" height="2" fill="#fe9c0b"/>
<rect x="225" y="126" width="2" height="2" fill="#ffae0f"/>
<rect x="227" y="126" width="2" height="2" fill="#f77610"/>
<rect x="229" y="126" width="2" height="2" fill="#fe9c0b"/>
<rect x="231" y="126" width="2" height="2" fill="#fb890d"/>
<rect x="233" y="126" width="2" height="2" fill="#df3920"/>
<rect x="235" y="126" width="2" height="2" fill="#c32039"/>
<rect x="237" y="126" width="4" height="2" fill="#df3920"/>
<rect x="241" y="126" width="2" height="2" fill="#cf202b"/>
<rect x="243" y="126" width="2" height="2" fill="#b71f47"/>
<rect x="245" y="126" width="2" height="2" fill="#ab1f56"/>
<rect x="247" y="126" width="2" height="2" fill="#c32039"/>
<rect x="249" y="126" width="2" height="2" fill="#b71f47"/>
<rect x="251" y="126" width="2" height="2" fill="#cf202b"/>
<rect x="253" y="126" width="2" height="2" fill="#b71f47"/>
<rect x="255" y="126" width="4" height="2" fill="#921f72"/>
<rect x="259" y="126" width="2" height="2" fill="#cf202b"/>
<rect x="261" y="126" width="2" height="2" fill="#d72c25"/>
<rect x="263" y="126" width="2" height="2" fill="#b71f47"/>
<rect x="265" y="126" width="2" height="2" fill="#ef5316"/>
<rect x="267" y="126" width="2" height="2" fill="#fe9c0b"/>
<rect x="269" y="126" width="2" height="2" fill="#e7461b"/>
<rect x="271" y="126" width="2" height="2" fill="#f77610"/>
<rect x="273" y="126" width="2" height="2" fill="#df3920"/>
<rect x="275" y="126" width="2" height="2" fill="#fb890d"/>
<rect x="277" y="126" width="2" height="2" fill="#ffd21d"/>
<rect x="279" y="126" width="2" height="2" fill="#fb890d"/>
<rect x="281" y="126" width="4" height="2" fill="#ffae0f"/>
<rect x="285" y="126" width="2" height="2" fill="#ffc016"/>
<rect x="287" y="126" width="4" height="2" fill="#ffd21d"/>
<rect x="291" y="126" width="2" height="2" fill="#ffe140"/>
<rect x="293" y="126" width="2" height="2" fill="#fff392"/>
<rect x="297" y="126" width="8" height="2" fill="#fff392"/>
<rect x="205" y="128" width="4" height="2" fill="#fff392"/>
<rect x="209" y="128" width="2" height="2" fill="#ffe140"/>
<rect x="211" y="128" width="4" height="2" fill="#fff392"/>
<rect x="215" y="128" width="4" height="2" fill="#ffe140"/>
<rect x="219" y="128" width="2" height="2" fill="#ffc016"/>
<rect x="221" y="128" width="2" height="2" fill="#fff392"/>
<rect x="223" y="128" width="4" height="2" fill="#ffc016"/>
<rect x="227" y="128" width="2" height="2" fill="#ffd21d"/>
<rect x="229" y="128" width="2" height="2" fill="#fb890d"/>
<rect x="231" y="128" width="2" height="2" fill="#ef5316"/>
<rect x="233" y="128" width="6" height="2" fill="#f46312"/>
<rect x="239" y="128" width="2" height="2" fill="#e7461b"/>
<rect x="241" y="128" width="2" height="2" fill="#c32039"/>
<rect x="243" y="128" width="2" height="2" fill="#d72c25"/>
<rect x="245" y="128" width="2" height="2" fill="#c32039"/>
<rect x="247" y="128" width="4" height="2" fill="#ab1f56"/>
<rect x="251" y="128" width="4" height="2" fill="#9f1e64"/>
<rect x="255" y="128" width="2" height="2" fill="#df3920"/>
<rect x="257" y="128" width="2" height="2" fill="#852580"/>
<rect x="259" y="128" width="2" height="2" fill="#cf202b"/>
<rect x="261" y="128" width="2" height="2" fill="#b71f47"/>
<rect x="263" y="128" width="2" height="2" fill="#ab1f56"/>
<rect x="265" y="128" width="2" height="2" fill="#b71f47"/>
<rect x="267" y="128" width="2" height="2" fill="#ef5316"/>
<rect x="269" y="128" width="2" height="2" fill="#f46312"/>
<rect x="271" y="128" width="2" height="2" fill="#df3920"/>
<rect x="273" y="128" width="2" height="2" fill="#d72c25"/>
<rect x="275" y="128" width="2" height="2" fill="#f46312"/>
<rect x="277" y="128" width="4" height="2" fill="#fb890d"/>
<rect x="281" y="128" width="2" height="2" fill="#f77610"/>
<rect x="283" y="128" width="6" height="2" fill="#ffc016"/>
<rect x="289" y="128" width="2" height="2" fill="#ffe140"/>
<rect x="291" y="128" width="6" height="2" fill="#fff392"/>
<rect x="301" y="128" width="6" height="2" fill="#fff392"/>
<rect x="311" y="128" width="2" height="2" fill="#fff392"/>
<rect x="205" y="130" width="10" height="2" fill="#fff392"/>
<rect x="215" y="130" width="6" height="2" fill="#ffe140"/>
<rect x="221" y="130" width="2" height="2" fill="#ffd21d"/>
<rect x="223" y="130" width="2" height="2" fill="#ffc016"/>
<rect x="225" y="130" width="2" height="2" fill="#ffd21d"/>
<rect x="227" y="130" width="2" height="2" fill="#ffc016"/>
<rect x="229" y="130" width="2" height="2" fill="#ffae0f"/>
<rect x="231" y="130" width="2" height="2" fill="#fe9c0b"/>
<rect x="233" y="130" width="2" height="2" fill="#f46312"/>
<rect x="235" y="130" width="2" height="2" fill="#d72c25"/>
<rect x="237" y="130" width="2" height="2" fill="#f77610"/>
<rect x="239" y="130" width="2" height="2" fill="#d72c25"/>
<rect x="241" y="130" width="2" height="2" fill="#e7461b"/>
<rect x="243" y="130" width="2" height="2" fill="#c32039"/>
<rect x="245" y="130" width="2" height="2" fill="#d72c25"/>
<rect x="247" y="130" width="2" height="2" fill="#cf202b"/>
<rect x="249" y="130" width="2" height="2" fill="#e7461b"/>
<rect x="251" y="130" width="2" height="2" fill="#b71f47"/>
<rect x="253" y="130" width="4" height="2" fill="#c32039"/>
<rect x="257" y="130" width="2" height="2" fill="#9f1e64"/>
<rect x="259" y="130" width="2" height="2" fill="#921f72"/>
<rect x="261" y="130" width="4" height="2" fill="#d72c25"/>
<rect x="265" y="130" width="2" height="2" fill="#b71f47"/>
<rect x="267" y="130" width="2" height="2" fill="#ab1f56"/>
<rect x="269" y="130" width="2" height="2" fill="#c32039"/>
<rect x="271" y="130" width="4" height="2" fill="#e7461b"/>
<rect x="275" y="130" width="2" height="2" fill="#ef5316"/>
<rect x="277" y="130" width="2" height="2" fill="#fe9c0b"/>
<rect x="279" y="130" width="2" height="2" fill="#ffd21d"/>
<rect x="281" y="130" width="2" height="2" fill="#fb890d"/>
<rect x="283" y="130" width="2" height="2" fill="#fe9c0b"/>
<rect x="285" y="130" width="2" height="2" fill="#ffd21d"/>
<rect x="287" y="130" width="2" height="2" fill="#ffc016"/>
<rect x="289" y="130" width="4" height="2" fill="#ffd21d"/>
<rect x="293" y="130" width="2" height="2" fill="#ffe140"/>
<rect x="295" y="130" width="6" height="2" fill="#fff392"/>
<rect x="309" y="130" width="4" height="2" fill="#fff392"/>
<rect x="203" y="132" width="2" height="2" fill="#fff392"/>
<rect x="209" y="132" width="4" height="2" fill="#fff392"/>
<rect x="217" y="132" width="4" height="2" fill="#ffe140"/>
<rect x="221" y="132" width="2" height="2" fill="#fff392"/>
<rect x="223" y="132" width="4" height="2" fill="#ffd21d"/>
<rect x="227" y="132" width="4" height="2" fill="#ffc016"/>
<rect x="231" y="132" width="2" height="2" fill="#ffae0f"/>
<rect x="233" y="132" width="2" height="2" fill="#ffd21d"/>
<rect x="235" y="132" width="2" height="2" fill="#f77610"/>
<rect x="237" y="132" width="2" height="2" fill="#e7461b"/>
<rect x="239" y="132" width="2" height="2" fill="#fb890d"/>
<rect x="241" y="132" width="2" height="2" fill="#e7461b"/>
<rect x="243" y="132" width="2" height="2" fill="#d72c25"/>
<rect x="245" y="132" width="2" height="2" fill="#b71f47"/>
<rect x="247" y="132" width="2" height="2" fill="#cf202b"/>
<rect x="249" y="132" width="2" height="2" fill="#df3920"/>
<rect x="251" y="132" width="2" height="2" fill="#852580"/>
<rect x="253" y="132" width="2" height="2" fill="#c32039"/>
<rect x="255" y="132" width="2" height="2" fill="#cf202b"/>
<rect x="257" y="132" width="2" height="2" fill="#b71f47"/>
<rect x="259" y="132" width="2" height="2" fill="#782a8e"/>
<rect x="261" y="132" width="2" height="2" fill="#cf202b"/>
<rect x="263" y="132" width="4" height="2" fill="#d72c25"/>
<rect x="267" y="132" width="6" height="2" fill="#e7461b"/>
<rect x="273" y="132" width="2" height="2" fill="#fb890d"/>
<rect x="275" y="132" width="2" height="2" fill="#f46312"/>
<rect x="277" y="132" width="2" height="2" fill="#ffae0f"/>
<rect x="279" y="132" width="2" height="2" fill="#fe9c0b"/>
<rect x="281" y="132" width="4" height="2" fill="#ffae0f"/>
<rect x="285" y="132" width="2" height="2" fill="#ffc016"/>
<rect x="287" y="132" width="2" height="2" fill="#ffae0f"/>
<rect x="289" y="132" width="4" height="2" fill="#ffe140"/>
<rect x="293" y="132" width="2" height="2" fill="#ffd21d"/>
<rect x="295" y="132" width="2" height="2" fill="#ffe140"/>
<rect x="297" y="132" width="4" height="2" fill="#fff392"/>
<rect x="303" y="132" width="4" height="2" fill="#fff392"/>
<rect x="309" y="132" width="2" height="2" fill="#fff392"/>
<rect x="209" y="134" width="4" height="2" fill="#fff392"/>
<rect x="215" y="134" width="2" height="2" fill="#fff392"/>
<rect x="219" y="134" width="2" height="2" fill="#ffe140"/>
<rect x="221" y="134" width="2" height="2" fill="#fff392"/>
<rect x="223" y="134" width="6" height="2" fill="#ffd21d"/>
<rect x="229" y="134" width="2" height="2" fill="#ffe140"/>
<rect x="231" y="134" width="2" height="2" fill="#ffae0f"/>
<rect x="233" y="134" width="8" height="2" fill="#fe9c0b"/>
<rect x="241" y="134" width="2" height="2" fill="#ffae0f"/>
<rect x="243" y="134" width="2" height="2" fill="#e7461b"/>
<rect x="245" y="134" width="2" height="2" fill="#f77610"/>
<rect x="247" y="134" width="2" height="2" fill="#d72c25"/>
<rect x="249" y="134" width="4" height="2" fill="#c32039"/>
<rect x="253" y="134" width="2" height="2" fill="#df3920"/>
<rect x="255" y="134" width="2" height="2" fill="#e7461b"/>
<rect x="257" y="134" width="2" height="2" fill="#c32039"/>
<rect x="259" y="134" width="2" height="2" fill="#9f1e64"/>
<rect x="261" y="134" width="2" height="2" fill="#df3920"/>
<rect x="263" y="134" width="2" height="2" fill="#e7461b"/>
<rect x="265" y="134" width="2" height="2" fill="#ef5316"/>
<rect x="267" y="134" width="2" height="2" fill="#df3920"/>
<rect x="269" y="134" width="4" height="2" fill="#e7461b"/>
<rect x="273" y="134" width="2" height="2" fill="#f46312"/>
<rect x="275" y="134" width="2" height="2" fill="#e7461b"/>
<rect x="277" y="134" width="4" height="2" fill="#ffae0f"/>
<rect x="281" y="134" width="2" height="2" fill="#ffc016"/>
<rect x="283" y="134" width="2" height="2" fill="#ffae0f"/>
<rect x="285" y="134" width="2" height="2" fill="#fe9c0b"/>
<rect x="287" y="134" width="2" height="2" fill="#ffae0f"/>
<rect x="289" y="134" width="6" height="2" fill="#ffe140"/>
<rect x="297" y="134" width="10" height="2" fill="#fff392"/>
<rect x="309" y="134" width="2" height="2" fill="#fff392"/>
<rect x="215" y="136" width="4" height="2" fill="#fff392"/>
<rect x="221" y="136" width="2" height="2" fill="#fff392"/>
<rect x="223" y="136" width="2" height="2" fill="#ffe140"/>
<rect x="225" y="136" width="4" height="2" fill="#fff392"/>
<rect x="229" y="136" width="4" height="2" fill="#ffd21d"/>
<rect x="233" y="136" width="4" height="2" fill="#ffe140"/>
<rect x="237" y="136" width="2" height="2" fill="#fb890d"/>
<rect x="239" y="136" width="4" height="2" fill="#ffc016"/>
<rect x="243" y="136" width="2" height="2" fill="#fe9c0b"/>
<rect x="245" y="136" width="2" height="2" fill="#ffae0f"/>
<rect x="247" y="136" width="6" height="2" fill="#f77610"/>
<rect x="253" y="136" width="2" height="2" fill="#e7461b"/>
<rect x="255" y="136" width="2" height="2" fill="#fe9c0b"/>
<rect x="257" y="136" width="2" height="2" fill="#f46312"/>
<rect x="259" y="136" width="2" height="2" fill="#df3920"/>
<rect x="261" y="136" width="2" height="2" fill="#ef5316"/>
<rect x="263" y="136" width="2" height="2" fill="#df3920"/>
<rect x="265" y="136" width="2" height="2" fill="#e7461b"/>
<rect x="267" y="136" width="2" height="2" fill="#df3920"/>
<rect x="269" y="136" width="2" height="2" fill="#e7461b"/>
<rect x="271" y="136" width="2" height="2" fill="#f77610"/>
<rect x="273" y="136" width="2" height="2" fill="#ef5316"/>
<rect x="275" y="136" width="2" height="2" fill="#fb890d"/>
<rect x="277" y="136" width="2" height="2" fill="#df3920"/>
<rect x="279" y="136" width="2" height="2" fill="#ffd21d"/>
<rect x="281" y="136" width="4" height="2" fill="#ffae0f"/>
<rect x="285" y="136" width="2" height="2" fill="#fe9c0b"/>
<rect x="287" y="136" width="4" height="2" fill="#ffd21d"/>
<rect x="291" y="136" width="2" height="2" fill="#ffe140"/>
<rect x="293" y="136" width="2" height="2" fill="#ffd21d"/>
<rect x="295" y="136" width="2" height="2" fill="#ffe140"/>
<rect x="297" y="136" width="2" height="2" fill="#ffd21d"/>
<rect x="299" y="136" width="2" height="2" fill="#ffc016"/>
<rect x="301" y="136" width="2" height="2" fill="#fff392"/>
<rect x="305" y="136" width="4" height="2" fill="#fff392"/>
<rect x="315" y="136" width="2" height="2" fill="#fff392"/>
<rect x="215" y="138" width="2" height="2" fill="#fff392"/>
<rect x="225" y="138" width="2" height="2" fill="#ffe140"/>
<rect x="227" y="138" width="6" height="2" fill="#fff392"/>
<rect x="233" y="138" width="2" height="2" fill="#ffe140"/>
<rect x="235" y="138" width="2" height="2" fill="#ffd21d"/>
<rect x="237" y="138" width="2" height="2" fill="#ffe140"/>
<rect x="239" y="138" width="2" height="2" fill="#ffae0f"/>
<rect x="241" y="138" width="2" height="2" fill="#ffc016"/>
<rect x="243" y="138" width="2" height="2" fill="#ffd21d"/>
<rect x="245" y="138" width="2" height="2" fill="#fe9c0b"/>
<rect x="247" y="138" width="2" height="2" fill="#ffae0f"/>
<rect x="249" y="138" width="2" height="2" fill="#fb890d"/>
<rect x="251" y="138" width="2" height="2" fill="#f77610"/>
<rect x="253" y="138" width="2" height="2" fill="#ef5316"/>
<rect x="255" y="138" width="2" height="2" fill="#df3920"/>
<rect x="257" y="138" width="2" height="2" fill="#ef5316"/>
<rect x="259" y="138" width="2" height="2" fill="#fb890d"/>
<rect x="261" y="138" width="2" height="2" fill="#fe9c0b"/>
<rect x="263" y="138" width="2" height="2" fill="#ef5316"/>
<rect x="265" y="138" width="2" height="2" fill="#fe9c0b"/>
<rect x="267" y="138" width="2" height="2" fill="#fb890d"/>
<rect x="269" y="138" width="4" height="2" fill="#f46312"/>
<rect x="273" y="138" width="2" height="2" fill="#f77610"/>
<rect x="275" y="138" width="4" height="2" fill="#fb890d"/>
<rect x="279" y="138" width="2" height="2" fill="#fe9c0b"/>
<rect x="281" y="138" width="2" height="2" fill="#f77610"/>
<rect x="283" y="138" width="2" height="2" fill="#fe9c0b"/>
<rect x="285" y="138" width="2" height="2" fill="#ffd21d"/>
<rect x="287" y="138" width="6" height="2" fill="#ffc016"/>
<rect x="293" y="138" width="4" height="2" fill="#ffe140"/>
<rect x="297" y="138" width="2" height="2" fill="#fff392"/>
<rect x="299" y="138" width="2" height="2" fill="#ffe140"/>
<rect x="301" y="138" width="8" height="2" fill="#fff392"/>
<rect x="223" y="140" width="4" height="2" fill="#fff392"/>
<rect x="227" y="140" width="4" height="2" fill="#ffe140"/>
<rect x="231" y="140" width="2" height="2" fill="#fff392"/>
<rect x="233" y="140" width="2" height="2" fill="#ffe140"/>
<rect x="235" y="140" width="2" height="2" fill="#ffd21d"/>
<rect x="237" y="140" width="2" height="2" fill="#ffe140"/>
<rect x="239" y="140" width="2" height="2" fill="#ffc016"/>
<rect x="241" y="140" width="6" height="2" fill="#ffae0f"/>
<rect x="247" y="140" width="2" height="2" fill="#f77610"/>
<rect x="249" y="140" width="2" height="2" fill="#ffc016"/>
<rect x="251" y="140" width="6" height="2" fill="#fe9c0b"/>
<rect x="257" y="140" width="2" height="2" fill="#fb890d"/>
<rect x="259" y="140" width="4" height="2" fill="#ffae0f"/>
<rect x="263" y="140" width="4" height="2" fill="#f77610"/>
<rect x="267" y="140" width="2" height="2" fill="#f46312"/>
<rect x="269" y="140" width="2" height="2" fill="#ffc016"/>
<rect x="271" y="140" width="4" height="2" fill="#fe9c0b"/>
<rect x="275" y="140" width="2" height="2" fill="#fb890d"/>
<rect x="277" y="140" width="2" height="2" fill="#ffd21d"/>
<rect x="279" y="140" width="2" height="2" fill="#ffc016"/>
<rect x="281" y="140" width="2" height="2" fill="#fe9c0b"/>
<rect x="283" y="140" width="2" height="2" fill="#ffae0f"/>
<rect x="285" y="140" width="2" height="2" fill="#ffd21d"/>
<rect x="287" y="140" width="2" height="2" fill="#ffc016"/>
<rect x="289" y="140" width="2" height="2" fill="#ffe140"/>
<rect x="291" y="140" width="2" height="2" fill="#fff392"/>
<rect x="293" y="140" width="2" height="2" fill="#ffc016"/>
<rect x="295" y="140" width="6" height="2" fill="#ffe140"/>
<rect x="303" y="140" width="2" height="2" fill="#ffe140"/>
<rect x="305" y="140" width="4" height="2" fill="#fff392"/>
<rect x="313" y="140" width="2" height="2" fill="#fff392"/>
<rect x="321" y="140" width="2" height="2" fill="#fff392"/>
<rect x="215" y="142" width="4" height="2" fill="#fff392"/>
<rect x="221" y="142" width="2" height="2" fill="#fff392"/>
<rect x="225" y="142" width="2" height="2" fill="#fff392"/>
<rect x="227" y="142" width="2" height="2" fill="#ffe140"/>
<rect x="229" y="142" width="2" height="2" fill="#fff392"/>
<rect x="231" y="142" width="2" height="2" fill="#ffe140"/>
<rect x="233" y="142" width="2" height="2" fill="#fff392"/>
<rect x="235" y="142" width="2" height="2" fill="#ffe140"/>
<rect x="237" y="142" width="2" height="2" fill="#ffd21d"/>
<rect x="239" y="142" width="2" height="2" fill="#fff392"/>
<rect x="241" y="142" width="2" height="2" fill="#ffe140"/>
<rect x="243" y="142" width="2" height="2" fill="#ffd21d"/>
<rect x="245" y="142" width="2" height="2" fill="#ffae0f"/>
<rect x="247" y="142" width="4" height="2" fill="#ffc016"/>
<rect x="251" y="142" width="2" height="2" fill="#ffae0f"/>
<rect x="253" y="142" width="2" height="2" fill="#fe9c0b"/>
<rect x="255" y="142" width="2" height="2" fill="#fb890d"/>
<rect x="257" y="142" width="4" height="2" fill="#ffae0f"/>
<rect x="261" y="142" width="2" height="2" fill="#fe9c0b"/>
<rect x="263" y="142" width="2" height="2" fill="#fb890d"/>
<rect x="265" y="142" width="4" height="2" fill="#fe9c0b"/>
<rect x="269" y="142" width="2" height="2" fill="#f46312"/>
<rect x="271" y="142" width="2" height="2" fill="#fe9c0b"/>
<rect x="273" y="142" width="2" height="2" fill="#ffd21d"/>
<rect x="275" y="142" width="4" height="2" fill="#ffae0f"/>
<rect x="279" y="142" width="2" height="2" fill="#ffc016"/>
<rect x="281" y="142" width="4" height="2" fill="#ffae0f"/>
<rect x="285" y="142" width="2" height="2" fill="#fb890d"/>
<rect x="287" y="142" width="2" height="2" fill="#ffe140"/>
<rect x="289" y="142" width="2" height="2" fill="#fe9c0b"/>
<rect x="291" y="142" width="4" height="2" fill="#ffe140"/>
<rect x="297" y="142" width="2" height="2" fill="#ffe140"/>
<rect x="299" y="142" width="6" height="2" fill="#fff392"/>
<rect x="219" y="144" width="4" height="2" fill="#fff392"/>
<rect x="227" y="144" width="8" height="2" fill="#fff392"/>
<rect x="235" y="144" width="2" height="2" fill="#ffe140"/>
<rect x="237" y="144" width="2" height="2" fill="#ffd21d"/>
<rect x="239" y="144" width="6" height="2" fill="#ffe140"/>
<rect x="245" y="144" width="4" height="2" fill="#ffd21d"/>
<rect x="249" y="144" width="2" height="2" fill="#ffe140"/>
<rect x="251" y="144" width="4" height="2" fill="#ffc016"/>
<rect x="255" y="144" width="4" height="2" fill="#ffd21d"/>
<rect x="259" y="144" width="2" height="2" fill="#ffc016"/>
<rect x="261" y="144" width="2" height="2" fill="#ffd21d"/>
<rect x="263" y="144" width="2" height="2" fill="#ffae0f"/>
<rect x="265" y="144" width="2" height="2" fill="#ffc016"/>
<rect x="267" y="144" width="4" height="2" fill="#fe9c0b"/>
<rect x="271" y="144" width="2" height="2" fill="#ffd21d"/>
<rect x="273" y="144" width="2" height="2" fill="#fb890d"/>
<rect x="275" y="144" width="4" height="2" fill="#ffc016"/>
<rect x="279" y="144" width="2" height="2" fill="#fb890d"/>
<rect x="281" y="144" width="2" height="2" fill="#ffd21d"/>
<rect x="283" y="144" width="2" height="2" fill="#ffc016"/>
<rect x="285" y="144" width="2" height="2" fill="#ffae0f"/>
<rect x="287" y="144" width="4" height="2" fill="#ffd21d"/>
<rect x="291" y="144" width="2" height="2" fill="#ffe140"/>
<rect x="293" y="144" width="2" height="2" fill="#ffd21d"/>
<rect x="297" y="144" width="8" height="2" fill="#fff392"/>
<rect x="307" y="144" width="6" height="2" fill="#fff392"/>
<rect x="227" y="146" width="2" height="2" fill="#fff392"/>
<rect x="235" y="146" width="2" height="2" fill="#fff392"/>
<rect x="239" y="146" width="8" height="2" fill="#fff392"/>
<rect x="247" y="146" width="2" height="2" fill="#ffc016"/>
<rect x="249" y="146" width="2" height="2" fill="#ffe140"/>
<rect x="251" y="146" width="4" height="2" fill="#ffd21d"/>
<rect x="255" y="146" width="2" height="2" fill="#ffae0f"/>
<rect x="257" y="146" width="2" height="2" fill="#ffc016"/>
<rect x="259" y="146" width="2" height="2" fill="#ffd21d"/>
<rect x="261" y="146" width="2" height="2" fill="#ffc016"/>
<rect x="263" y="146" width="2" height="2" fill="#ffd21d"/>
<rect x="265" y="146" width="2" height="2" fill="#ffae0f"/>
<rect x="267" y="146" width="4" height="2" fill="#ffd21d"/>
<rect x="271" y="146" width="2" height="2" fill="#ffae0f"/>
<rect x="273" y="146" width="4" height="2" fill="#ffe140"/>
<rect x="277" y="146" width="6" height="2" fill="#ffd21d"/>
<rect x="283" y="146" width="2" height="2" fill="#ffe140"/>
<rect x="285" y="146" width="2" height="2" fill="#ffc016"/>
<rect x="287" y="146" width="2" height="2" fill="#ffe140"/>
<rect x="289" y="146" width="2" height="2" fill="#ffc016"/>
<rect x="291" y="146" width="2" height="2" fill="#ffd21d"/>
<rect x="293" y="146" width="2" height="2" fill="#fff392"/>
<rect x="295" y="146" width="2" height="2" fill="#ffe140"/>
<rect x="297" y="146" width="4" height="2" fill="#fff392"/>
<rect x="303" y="146" width="2" height="2" fill="#fff392"/>
<rect x="309" y="146" width="2" height="2" fill="#fff392"/>
<rect x="317" y="146" width="2" height="2" fill="#fff392"/>
<rect x="235" y="148" width="2" height="2" fill="#fff392"/>
<rect x="239" y="148" width="4" height="2" fill="#fff392"/>
<rect x="243" y="148" width="2" height="2" fill="#ffe140"/>
<rect x="245" y="148" width="2" height="2" fill="#fff392"/>
<rect x="247" y="148" width="2" height="2" fill="#ffe140"/>
<rect x="249" y="148" width="2" height="2" fill="#fff392"/>
<rect x="251" y="148" width="2" height="2" fill="#ffc016"/>
<rect x="253" y="148" width="4" height="2" fill="#ffe140"/>
<rect x="257" y="148" width="2" height="2" fill="#fff392"/>
<rect x="259" y="148" width="8" height="2" fill="#ffe140"/>
<rect x="267" y="148" width="4" height="2" fill="#ffd21d"/>
<rect x="271" y="148" width="2" height="2" fill="#ffe140"/>
<rect x="273" y="148" width="4" height="2" fill="#ffd21d"/>
<rect x="277" y="148" width="2" height="2" fill="#ffae0f"/>
<rect x="279" y="148" width="2" height="2" fill="#ffc016"/>
<rect x="281" y="148" width="2" height="2" fill="#ffd21d"/>
<rect x="283" y="148" width="2" height="2" fill="#fff392"/>
<rect x="285" y="148" width="2" height="2" fill="#ffc016"/>
<rect x="287" y="148" width="2" height="2" fill="#ffd21d"/>
<rect x="289" y="148" width="2" height="2" fill="#fff392"/>
<rect x="291" y="148" width="2" height="2" fill="#ffe140"/>
<rect x="295" y="148" width="2" height="2" fill="#ffe140"/>
<rect x="297" y="148" width="4" height="2" fill="#fff392"/>
<rect x="305" y="148" width="2" height="2" fill="#fff392"/>
<rect x="309" y="148" width="2" height="2" fill="#fff392"/>
<rect x="313" y="148" width="2" height="2" fill="#fff392"/>
<rect x="239" y="150" width="4" height="2" fill="#fff392"/>
<rect x="247" y="150" width="8" height="2" fill="#fff392"/>
<rect x="255" y="150" width="2" height="2" fill="#ffd21d"/>
<rect x="257" y="150" width="6" height="2" fill="#ffe140"/>
<rect x="263" y="150" width="2" height="2" fill="#ffd21d"/>
<rect x="265" y="150" width="4" height="2" fill="#ffe140"/>
<rect x="269" y="150" width="2" height="2" fill="#ffc016"/>
<rect x="271" y="150" width="4" height="2" fill="#ffd21d"/>
<rect x="275" y="150" width="2" height="2" fill="#ffc016"/>
<rect x="277" y="150" width="2" height="2" fill="#fff392"/>
<rect x="279" y="150" width="2" height="2" fill="#ffd21d"/>
<rect x="281" y="150" width="4" height="2" fill="#fff392"/>
<rect x="285" y="150" width="2" height="2" fill="#ffe140"/>
<rect x="287" y="150" width="2" height="2" fill="#ffd21d"/>
<rect x="289" y="150" width="2" height="2" fill="#ffe140"/>
<rect x="291" y="150" width="2" height="2" fill="#fff392"/>
<rect x="293" y="150" width="2" height="2" fill="#ffe140"/>
<rect x="295" y="150" width="4" height="2" fill="#fff392"/>
<rect x="301" y="150" width="2" height="2" fill="#ffe140"/>
<rect x="303" y="150" width="2" height="2" fill="#fff392"/>
<rect x="307" y="150" width="4" height="2" fill="#fff392"/>
<rect x="315" y="150" width="2" height="2" fill="#fff392"/>
<rect x="233" y="152" width="2" height="2" fill="#fff392"/>
<rect x="241" y="152" width="2" height="2" fill="#fff392"/>
<rect x="249" y="152" width="6" height="2" fill="#fff392"/>
<rect x="257" y="152" width="6" height="2" fill="#fff392"/>
<rect x="263" y="152" width="2" height="2" fill="#ffe140"/>
<rect x="265" y="152" width="4" height="2" fill="#fff392"/>
<rect x="269" y="152" width="8" height="2" fill="#ffe140"/>
<rect x="277" y="152" width="4" height="2" fill="#fff392"/>
<rect x="281" y="152" width="2" height="2" fill="#ffe140"/>
<rect x="283" y="152" width="2" height="2" fill="#fff392"/>
<rect x="285" y="152" width="6" height="2" fill="#ffe140"/>
<rect x="291" y="152" width="2" height="2" fill="#fff392"/>
<rect x="295" y="152" width="12" height="2" fill="#fff392"/>
<rect x="319" y="152" width="2" height="2" fill="#fff392"/>
<rect x="247" y="154" width="2" height="2" fill="#fff392"/>
<rect x="251" y="154" width="6" height="2" fill="#fff392"/>
<rect x="257" y="154" width="2" height="2" fill="#ffe140"/>
<rect x="259" y="154" width="4" height="2" fill="#fff392"/>
<rect x="263" y="154" width="2" height="2" fill="#ffe140"/>
<rect x="267" y="154" width="4" height="2" fill="#ffe140"/>
<rect x="271" y="154" width="4" height="2" fill="#fff392"/>
<rect x="275" y="154" width="4" height="2" fill="#ffe140"/>
<rect x="281" y="154" width="2" height="2" fill="#ffd21d"/>
<rect x="283" y="154" width="2" height="2" fill="#fff392"/>
<rect x="285" y="154" width="2" height="2" fill="#ffe140"/>
<rect x="287" y="154" width="2" height="2" fill="#fff392"/>
<rect x="289" y="154" width="2" height="2" fill="#ffd21d"/>
<rect x="291" y="154" width="2" height="2" fill="#fff392"/>
<rect x="293" y="154" width="2" height="2" fill="#ffe140"/>
<rect x="295" y="154" width="6" height="2" fill="#fff392"/>
<rect x="307" y="154" width="2" height="2" fill="#fff392"/>
<rect x="245" y="156" width="2" height="2" fill="#fff392"/>
<rect x="259" y="156" width="2" height="2" fill="#fff392"/>
<rect x="263" y="156" width="2" height="2" fill="#fff392"/>
<rect x="269" y="156" width="6" height="2" fill="#fff392"/>
<rect x="275" y="156" width="6" height="2" fill="#ffe140"/>
<rect x="283" y="156" width="2" height="2" fill="#fff392"/>
<rect x="285" y="156" width="2" height="2" fill="#ffe140"/>
<rect x="287" y="156" width="10" height="2" fill="#fff392"/>
<rect x="303" y="156" width="2" height="2" fill="#fff392"/>
<rect x="257" y="158" width="2" height="2" fill="#fff392"/>
<rect x="261" y="158" width="4" height="2" fill="#fff392"/>
<rect x="267" y="158" width="4" height="2" fill="#fff392"/>
<rect x="275" y="158" width="6" height="2" fill="#fff392"/>
<rect x="283" y="158" width="4" height="2" fill="#fff392"/>
<rect x="289" y="158" width="8" height="2" fill="#fff392"/>
<rect x="303" y="158" width="4" height="2" fill="#fff392"/>
<rect x="319" y="158" width="2" height="2" fill="#fff392"/>
<rect x="263" y="160" width="2" height="2" fill="#fff392"/>
<rect x="269" y="160" width="2" height="2" fill="#fff392"/>
<rect x="275" y="160" width="2" height="2" fill="#fff392"/>
<rect x="279" y="160" width="4" height="2" fill="#fff392"/>
<rect x="285" y="160" width="4" height="2" fill="#fff392"/>
<rect x="311" y="160" width="2" height="2" fill="#fff392"/>
<rect x="289" y="162" width="2" height="2" fill="#fff392"/>
<rect x="305" y="162" width="4" height="2" fill="#fff392"/>
<rect x="281" y="164" width="2" height="2" fill="#fff392"/>
<rect x="307" y="166" width="2" height="2" fill="#fff392"/>
</g>
<rect x="134.6" y="54.0" width="230.1" height="144.0" fill="none" stroke="#6c6c6c" stroke-width="0.9"/>
<path d="M134.6 198.0v-3.5 M157.6 198.0v-2.1 M180.6 198.0v-3.5 M203.6 198.0v-2.1 M226.6 198.0v-3.5 M249.6 198.0v-2.1 M272.7 198.0v-3.5 M295.7 198.0v-2.1 M318.7 198.0v-3.5 M341.7 198.0v-2.1 M364.7 198.0v-3.5 M134.6 54.0v3.5 M157.6 54.0v2.1 M180.6 54.0v3.5 M203.6 54.0v2.1 M226.6 54.0v3.5 M249.6 54.0v2.1 M272.7 54.0v3.5 M295.7 54.0v2.1 M318.7 54.0v3.5 M341.7 54.0v2.1 M364.7 54.0v3.5 M134.6 198.0h3.5 M364.7 198.0h-3.5 M134.6 186.0h2.1 M364.7 186.0h-2.1 M134.6 174.0h3.5 M364.7 174.0h-3.5 M134.6 162.0h2.1 M364.7 162.0h-2.1 M134.6 150.0h3.5 M364.7 150.0h-3.5 M134.6 138.0h2.1 M364.7 138.0h-2.1 M134.6 126.0h3.5 M364.7 126.0h-3.5 M134.6 114.0h2.1 M364.7 114.0h-2.1 M134.6 102.0h3.5 M364.7 102.0h-3.5 M134.6 90.0h2.1 M364.7 90.0h-2.1 M134.6 78.0h3.5 M364.7 78.0h-3.5 M134.6 66.0h2.1 M364.7 66.0h-2.1 M134.6 54.0h3.5 M364.7 54.0h-3.5" stroke="#6c6c6c" stroke-width="0.8" fill="none"/>
<text x="133.8" y="207.3" font-size="8.5" text-anchor="middle" stroke="#41465a" stroke-width="0.25" fill="#41465a" textLength="6.2" lengthAdjust="spacingAndGlyphs">0</text>
<text x="179.9" y="207.3" font-size="8.5" text-anchor="middle" stroke="#41465a" stroke-width="0.25" fill="#41465a" textLength="11.5" lengthAdjust="spacingAndGlyphs">20</text>
<text x="226.0" y="207.3" font-size="8.5" text-anchor="middle" stroke="#41465a" stroke-width="0.25" fill="#41465a" textLength="11.5" lengthAdjust="spacingAndGlyphs">40</text>
<text x="272.1" y="207.3" font-size="8.5" text-anchor="middle" stroke="#41465a" stroke-width="0.25" fill="#41465a" textLength="11.5" lengthAdjust="spacingAndGlyphs">60</text>
<text x="318.2" y="207.3" font-size="8.5" text-anchor="middle" stroke="#41465a" stroke-width="0.25" fill="#41465a" textLength="11.5" lengthAdjust="spacingAndGlyphs">80</text>
<text x="364.3" y="207.3" font-size="8.5" text-anchor="middle" stroke="#41465a" stroke-width="0.25" fill="#41465a" textLength="15.5" lengthAdjust="spacingAndGlyphs">100</text>
<text x="135.4" y="51.6" font-size="8.5" text-anchor="middle" stroke="#41465a" stroke-width="0.25" fill="#41465a" textLength="19" lengthAdjust="spacingAndGlyphs">0.04</text>
<text x="180.9" y="51.6" font-size="8.5" text-anchor="middle" stroke="#41465a" stroke-width="0.25" fill="#41465a" textLength="19" lengthAdjust="spacingAndGlyphs">0.08</text>
<text x="226.5" y="51.6" font-size="8.5" text-anchor="middle" stroke="#41465a" stroke-width="0.25" fill="#41465a" textLength="19" lengthAdjust="spacingAndGlyphs">0.12</text>
<text x="272.0" y="51.6" font-size="8.5" text-anchor="middle" stroke="#41465a" stroke-width="0.25" fill="#41465a" textLength="19" lengthAdjust="spacingAndGlyphs">0.16</text>
<text x="317.6" y="51.6" font-size="8.5" text-anchor="middle" stroke="#41465a" stroke-width="0.25" fill="#41465a" textLength="19" lengthAdjust="spacingAndGlyphs">0.20</text>
<text x="363.1" y="51.6" font-size="8.5" text-anchor="middle" stroke="#41465a" stroke-width="0.25" fill="#41465a" textLength="19" lengthAdjust="spacingAndGlyphs">0.24</text>
<text x="131" y="176.8" font-size="8.5" text-anchor="end" stroke="#41465a" stroke-width="0.25" fill="#41465a" textLength="10.5" lengthAdjust="spacingAndGlyphs">20</text>
<text x="131" y="152.8" font-size="8.5" text-anchor="end" stroke="#41465a" stroke-width="0.25" fill="#41465a" textLength="10.5" lengthAdjust="spacingAndGlyphs">30</text>
<text x="131" y="128.8" font-size="8.5" text-anchor="end" stroke="#41465a" stroke-width="0.25" fill="#41465a" textLength="10.5" lengthAdjust="spacingAndGlyphs">40</text>
<text x="131" y="104.8" font-size="8.5" text-anchor="end" stroke="#41465a" stroke-width="0.25" fill="#41465a" textLength="10.5" lengthAdjust="spacingAndGlyphs">50</text>
<text x="131" y="80.8" font-size="8.5" text-anchor="end" stroke="#41465a" stroke-width="0.25" fill="#41465a" textLength="10.5" lengthAdjust="spacingAndGlyphs">60</text>
<path d="M190.5 83.0V107.0M188.6 83.0h3.8M188.6 107.0h3.8 M185.5 95.0H195.5M185.5 93.2v3.6M195.5 93.2v3.6 M215.0 103.0V122.5M213.1 103.0h3.8M213.1 122.5h3.8 M210.0 112.0H220.0M210.0 110.2v3.6M220.0 110.2v3.6 M228.0 102.5V127.0M226.1 102.5h3.8M226.1 127.0h3.8 M225.0 115.0H231.0M225.0 113.2v3.6M231.0 113.2v3.6 M240.0 109.0V133.0M238.1 109.0h3.8M238.1 133.0h3.8 M237.0 121.0H243.0M237.0 119.2v3.6M243.0 119.2v3.6 M272.0 121.0V145.0M270.1 121.0h3.8M270.1 145.0h3.8 M272.0 133.0H272.0M272.0 131.2v3.6M272.0 131.2v3.6 M272 132.4h13.5 M301.5 120.0V140.0M299.6 120.0h3.8M299.6 140.0h3.8 M298.0 130.0H305.0M298.0 128.2v3.6M305.0 128.2v3.6 M301.5 144.0V157.5M299.6 144.0h3.8M299.6 157.5h3.8 M298.5 150.5H304.5M298.5 148.7v3.6M304.5 148.7v3.6 M323.3 128.7V170.0M321.4 128.7h3.8M321.4 170.0h3.8 M320.3 140.3H326.3M320.3 138.5v3.6M326.3 138.5v3.6 M323.3 152.0V170.0M321.4 152.0h3.8M321.4 170.0h3.8 M320.3 160.4H326.3M320.3 158.6v3.6M326.3 158.6v3.6 M335.0 149.0V163.0M333.1 149.0h3.8M333.1 163.0h3.8 M331.5 156.0H338.5M331.5 154.2v3.6M338.5 154.2v3.6" stroke="#504b3a" stroke-width="0.85" fill="none"/>
<path d="M307.4 128.5h3.4 M307.4 130.5h3.4 M307.4 141.5h3.4 M307.4 143.5h3.4 M307.4 145.5h3.4" stroke="#504b3a" stroke-width="0.8" fill="none"/>
<rect x="306.8" y="133" width="4.4" height="6.2" fill="#999" stroke="#222" stroke-width="0.9"/>
<path d="M306.8 133l4.4 6.2M311.2 133l-4.4 6.2" stroke="#111" stroke-width="0.9"/>
<circle cx="190.5" cy="95" r="1.7" fill="#fff" stroke="#504b3a" stroke-width="0.8"/>
<circle cx="215" cy="112" r="1.7" fill="#fff" stroke="#504b3a" stroke-width="0.8"/>
<circle cx="228" cy="115" r="1.7" fill="#fff" stroke="#504b3a" stroke-width="0.8"/>
<circle cx="240" cy="121" r="1.7" fill="#fff" stroke="#504b3a" stroke-width="0.8"/>
<circle cx="301.5" cy="130" r="1.7" fill="#fff" stroke="#504b3a" stroke-width="0.8"/>
<circle cx="301.5" cy="150.5" r="1.7" fill="#fff" stroke="#504b3a" stroke-width="0.8"/>
<circle cx="323.3" cy="140.3" r="1.7" fill="#fff" stroke="#504b3a" stroke-width="0.8"/>
<circle cx="323.3" cy="160.4" r="1.7" fill="#fff" stroke="#504b3a" stroke-width="0.8"/>
<circle cx="335" cy="156" r="1.7" fill="#fff" stroke="#504b3a" stroke-width="0.8"/>
<line x1="151.4" y1="83.3" x2="355.2" y2="168" stroke="#0a0af8" stroke-width="5" stroke-linecap="round"/>
<rect x="88.2" y="345" width="11" height="9" fill="#ff0000" stroke="#000" stroke-width="1.25"/>
<rect x="118.3" y="330.3" width="12.4" height="12.6" fill="#ff0000" stroke="#000" stroke-width="1.25"/>
<rect x="111.4" y="320.6" width="12.4" height="12.6" fill="#ff0000" stroke="#000" stroke-width="1.25"/>
<rect x="132.7" y="334.9" width="12.4" height="12.6" fill="#ff0000" stroke="#000" stroke-width="1.25"/>
<rect x="137.2" y="315.8" width="12.4" height="12.6" fill="#ff0000" stroke="#000" stroke-width="1.25"/>
<rect x="257.4" y="269.1" width="12.4" height="12.6" fill="#ff0000" stroke="#000" stroke-width="1.25"/>
<rect x="304.0" y="226.1" width="12.4" height="12.6" fill="#ff0000" stroke="#000" stroke-width="1.25"/>
<rect x="442.4" y="163.6" width="12.4" height="12.6" fill="#ff0000" stroke="#000" stroke-width="1.25"/>
<clipPath id="pc"><rect x="70.2" y="9.3" width="470.90000000000003" height="345.5"/></clipPath>
<line x1="70.5" y1="353.9" x2="534.2" y2="144.8" stroke="#0a8585" stroke-width="5" stroke-linecap="round" clip-path="url(#pc)"/>
<ellipse cx="82.5" cy="353" rx="4.5" ry="1.6" fill="#fff"/>
<rect x="77.9" y="341" width="15.8" height="10" fill="#ff0000" stroke="#000" stroke-width="1.25"/>
<path d="M144 322.7V344.2" stroke="#0a0aff" stroke-width="2" fill="none"/>
<path d="M141.0 341.59999999999997L144 342.8L147.0 341.59999999999997L144 352.2Z" fill="#0a0aff"/>
<path d="M448.4 171.3V202.6" stroke="#0a0aff" stroke-width="2" fill="none"/>
<path d="M445.4 200.0L448.4 201.2L451.4 200.0L448.4 210.6Z" fill="#0a0aff"/>
<rect x="70.2" y="9.3" width="470.90000000000003" height="345.5" fill="none" stroke="#000" stroke-width="1.7"/>
<path d="M70.2 351.3h-8.5 M541.1 351.3h-7.5 M70.2 308.6h-4.5 M541.1 308.6h-4 M70.2 265.9h-8.5 M541.1 265.9h-7.5 M70.2 223.2h-4.5 M541.1 223.2h-4 M70.2 180.5h-8.5 M541.1 180.5h-7.5 M70.2 137.8h-4.5 M541.1 137.8h-4 M70.2 95.1h-8.5 M541.1 95.1h-7.5 M70.2 52.4h-4.5 M541.1 52.4h-4 M70.2 9.7h-8.5 M79.0 354.8v8 M79.0 9.3v7.2 M171.4 354.8v4.5 M171.4 9.3v4 M263.8 354.8v8 M263.8 9.3v7.2 M356.2 354.8v4.5 M356.2 9.3v4 M448.6 354.8v8 M448.6 9.3v7.2 M541.0 354.8v4.5 M541.0 9.3v4" stroke="#000" stroke-width="1.7" fill="none"/>
<text x="58.2" y="355.1" font-size="14.4" stroke="#000" stroke-width="0.25" text-anchor="end" textLength="8.1" lengthAdjust="spacingAndGlyphs">0</text>
<text x="58.2" y="269.7" font-size="14.4" stroke="#000" stroke-width="0.25" text-anchor="end" textLength="8.1" lengthAdjust="spacingAndGlyphs">2</text>
<text x="58.2" y="184.3" font-size="14.4" stroke="#000" stroke-width="0.25" text-anchor="end" textLength="8.1" lengthAdjust="spacingAndGlyphs">4</text>
<text x="58.2" y="98.9" font-size="14.4" stroke="#000" stroke-width="0.25" text-anchor="end" textLength="8.1" lengthAdjust="spacingAndGlyphs">6</text>
<text x="58.2" y="13.5" font-size="14.4" stroke="#000" stroke-width="0.25" text-anchor="end" textLength="8.1" lengthAdjust="spacingAndGlyphs">8</text>
<text x="79.0" y="378" font-size="14.4" stroke="#000" stroke-width="0.25" text-anchor="middle" textLength="8.1" lengthAdjust="spacingAndGlyphs">0</text>
<text x="263.8" y="378" font-size="14.4" stroke="#000" stroke-width="0.25" text-anchor="middle" textLength="8.1" lengthAdjust="spacingAndGlyphs">2</text>
<text x="448.6" y="378" font-size="14.4" stroke="#000" stroke-width="0.25" text-anchor="middle" textLength="8.1" lengthAdjust="spacingAndGlyphs">4</text>
<text x="318" y="399.1" font-size="27.4" stroke="#000" stroke-width="0.25">Tc (K)</text>
<text transform="translate(31.3 259.3) rotate(-90) scale(0.93 1)" font-size="28" letter-spacing="1.0"><tspan font-style="italic">V</tspan><tspan font-size="15.5" dy="10.7">F</tspan><tspan dy="-10.7"> (10</tspan><tspan font-size="15" dy="-15.7">4</tspan><tspan dy="15.7">m/s)</tspan></text>
<text x="260.5" y="39.5" font-size="21.8" text-anchor="middle" stroke="#000" stroke-width="0.3">X</text>
<text transform="translate(106.2 163.6) rotate(-90)" font-size="26.5" stroke="#000" stroke-width="0.15" textLength="99.8" lengthAdjust="spacingAndGlyphs"><tspan font-size="23.5">Δ</tspan> (meV)</text>
<text x="137.8" y="228.7" font-size="21.3" font-weight="bold">LDOS (au)</text>
<text x="247.2" y="228.7" font-size="21.3" font-weight="bold">~1/</text>
<text x="276.0" y="228.7" font-size="21.3" font-weight="bold" textLength="16.4" lengthAdjust="spacingAndGlyphs">V</text>
<text x="292.6" y="237.2" font-size="11.5" font-weight="bold">F</text>
<rect x="375.6" y="206.6" width="0.9" height="1.6" fill="#777"/>
<rect x="343.2" y="259.7" width="138.2" height="21.5" fill="#fff" stroke="#222" stroke-width="1"/>
<rect x="362.7" y="265.2" width="12.4" height="12.6" fill="#ff0000" stroke="#000" stroke-width="1.25"/>
<text x="393.5" y="277.2" font-size="17" fill="#8b0a0a">Experiment</text>
</svg></body></html>
